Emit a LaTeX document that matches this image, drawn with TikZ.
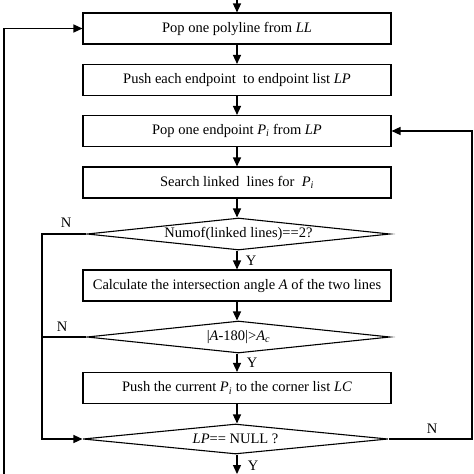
\documentclass[tikz,border=0pt]{standalone}
\usepackage{fontspec}
\setmainfont{Liberation Serif}
\usetikzlibrary{shapes.geometric,arrows.meta}
\begin{document}
\begin{tikzpicture}[x=1pt,y=-1pt,
  font=\fontsize{14.5}{16}\selectfont,
  stepbox/.style={draw,line width=1.1pt,minimum width=308pt,minimum height=31pt,inner sep=0pt},
  decide/.style={draw,diamond,line width=1.1pt,shape aspect=9,minimum width=303pt,minimum height=32pt,inner sep=0pt},
  arr/.style={line width=1.3pt,-{Triangle[length=9pt,width=8pt]}},
  ln/.style={line width=1.3pt},
  lbl/.style={inner sep=0pt}]
\useasboundingbox (0,0) rectangle (474,474);
\node[stepbox] (b1) at (237,28.5) {Pop one polyline from \textit{LL}};
\node[stepbox] (b2) at (237,80) {Push each endpoint\ \ to endpoint list \textit{LP}};
\node[stepbox] (b3) at (237,131) {Pop one endpoint \textit{P}\textsubscript{\textit{i}} from \textit{LP}};
\node[stepbox] (b4) at (237,182.5) {Search linked\ \ lines for\ \ \textit{P}\textsubscript{\textit{i}}};
\node[decide] (d1) at (238.5,234) {Numof(linked lines)==2?};
\node[stepbox] (b5) at (237,285.5) {Calculate the intersection angle \textit{A} of the two lines};
\node[decide] (d2) at (238.5,337) {|\textit{A}-180|>\textit{A}\textsubscript{\textit{c}}};
\node[stepbox] (b6) at (237,388) {Push the current \textit{P}\textsubscript{\textit{i}} to the corner list \textit{LC}};
\node[decide,minimum width=305pt,minimum height=30pt] (d3) at (235.5,439) {\textit{LP}== NULL ?};
\coordinate (top) at (237,0);
\coordinate (bot) at (237,474);
\coordinate (lo) at (4,474);
\coordinate (li) at (42,234);
\coordinate (lm) at (42,337);
\coordinate (lb) at (42,439);
\coordinate (ri) at (472,439);
\draw[arr] (top) -- (b1.north);
\draw[arr] (b1) -- (b2);
\draw[arr] (b2) -- (b3);
\draw[arr] (b3) -- (b4);
\draw[arr] (b4.south) -- (b4.south |- d1.north);
\draw[arr] (b4.south |- d1.south) -- (b5.north);
\draw[arr] (b5.south) -- (b5.south |- d2.north);
\draw[arr] (b5.south |- d2.south) -- (b6.north);
\draw[arr] (b6.south) -- (b6.south |- d3.north);
\draw[arr] (b6.south |- d3.south) -- (bot);
\draw[arr] (lo) |- (b1.west);
\draw[arr] (d1.west) -- (li) -- (lb) -- (d3.west);
\draw[ln] (d2.west) -- (lm);
\draw[arr] (d3.east) -- (ri) |- (b3.east);
\node[lbl] (n1) at (66,223) {N};
\node[lbl] (n2) at (62,327) {N};
\node[lbl] (n3) at (432,429) {N};
\node[lbl] (y1) at (251,261) {Y};
\node[lbl] (y2) at (252,363) {Y};
\node[lbl] (y3) at (253,466) {Y};
\end{tikzpicture}
\end{document}
